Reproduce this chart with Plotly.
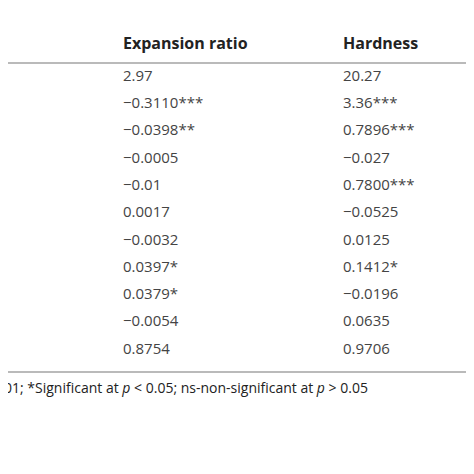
import plotly.graph_objects as go

# table values
headers = ["Expansion ratio", "Hardness"]
expansion = ["2.97", "−0.3110***", "−0.0398**", "−0.0005", "−0.01", "0.0017",
             "−0.0032", "0.0397*", "0.0379*", "−0.0054", "0.8754"]
hardness = ["20.27", "3.36***", "0.7896***", "−0.027", "0.7800***", "−0.0525",
            "0.0125", "0.1412*", "−0.0196", "0.0635", "0.9706"]
footnote = "01; *Significant at <i>p</i> < 0.05; ns-non-significant at <i>p</i> > 0.05"

font = "Open Sans"
col_x = [115, 335]
row_y = [69 + i * 27.3 for i in range(len(expansion))]

fig = go.Figure()
fig.add_scatter(x=col_x, y=[37, 37], mode="text", text=[f"<b>{h}</b>" for h in headers],
                textposition="middle right", textfont=dict(family=font, size=16, color="#222"),
                hoverinfo="skip")
for cx, col in zip(col_x, [expansion, hardness]):
    fig.add_scatter(x=[cx] * len(col), y=row_y, mode="text", text=col,
                    textposition="middle right", textfont=dict(family=font, size=15, color="#444"),
                    hoverinfo="skip")
fig.add_scatter(x=[-4], y=[381], mode="text", text=[footnote], textposition="middle right",
                textfont=dict(family=font, size=14, color="#222"), hoverinfo="skip")

for y in [55, 364]:
    fig.add_shape(type="line", x0=0, x1=474, y0=y, y1=y, line=dict(color="#777", width=1.2))

fig.update_layout(width=474, height=474, margin=dict(l=0, r=0, t=0, b=0),
                  plot_bgcolor="white", paper_bgcolor="white", showlegend=False,
                  xaxis=dict(range=[0, 474], visible=False, fixedrange=True),
                  yaxis=dict(range=[474, 0], visible=False, fixedrange=True))
fig.write_html("out.html")
